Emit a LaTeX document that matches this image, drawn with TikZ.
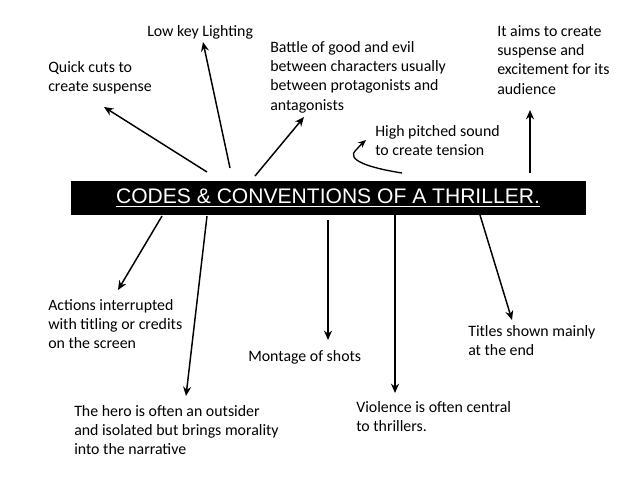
\documentclass[tikz,border=0pt]{standalone}
\usepackage{fontspec}
\usetikzlibrary{arrows.meta}
\setmainfont{Carlito}
\newfontfamily\arialf{Liberation Sans}
\begin{document}
\begin{tikzpicture}[x=0.75pt,y=-0.75pt,
  lbl/.style={align=left,anchor=north west,inner sep=0pt,font=\fontsize{11.9}{14.5}\selectfont},
  arr/.style={-{Stealth[length=7pt,width=6pt]},line width=1.1pt}]
\useasboundingbox (0,0) rectangle (638,479);
\fill[white] (0,0) rectangle (638,479);
\node[fill=black,minimum width=386.25pt,minimum height=26pt,inner sep=0pt,text=white,font=\arialf\fontsize{15.8}{17}\selectfont] (bar) at (328,198) {\underline{CODES \& CONVENTIONS OF A THRILLER.}};
\node[lbl] (t1) at (48,61) {Quick cuts to\\create suspense};
\node[lbl] (t2) at (147,25) {Low key Lighting};
\node[lbl] (t3) at (270,41) {Battle of good and evil\\between characters usually\\between protagonists and\\antagonists};
\node[lbl] (t4) at (375,125) {High pitched sound\\to create tension};
\node[lbl] (t5) at (497,25) {It aims to create\\suspense and\\excitement for its\\audience};
\node[lbl] (b1) at (48,299) {Actions interrupted\\with titling or credits\\on the screen};
\node[lbl] (b2) at (74,405) {The hero is often an outsider\\and isolated but brings morality\\into the narrative};
\node[lbl] (b3) at (248,350) {Montage of shots};
\node[lbl] (b4) at (356,401) {Violence is often central\\to thrillers.};
\node[lbl] (b5) at (468,325) {Titles shown mainly\\at the end};
\coordinate (a1s) at (207,172); \coordinate (a1e) at (104,107);
\coordinate (a2s) at (230,168); \coordinate (a2e) at (203,42);
\coordinate (a3s) at (255,176); \coordinate (a3e) at (304,117);
\coordinate (a5s) at (530,173); \coordinate (a5e) at (530,110);
\coordinate (c1s) at (402,173); \coordinate (c1e) at (366,140);
\coordinate (d1s) at (162,216); \coordinate (d1e) at (118,290);
\coordinate (d2s) at (207,216); \coordinate (d2e) at (186,396);
\coordinate (d3s) at (328,220); \coordinate (d3e) at (328,340);
\coordinate (d4s) at (395,211); \coordinate (d4e) at (395,393);
\coordinate (d5s) at (480,215); \coordinate (d5e) at (512,320);
\foreach \p in {a1,a2,a3,a5,d1,d2,d3,d4,d5} \draw[arr] (\p s) -- (\p e);
\draw[-{Stealth[length=6pt,width=5pt]},line width=1pt] (c1s) .. controls (370,168) and (345,160) .. (356,150) .. controls (359,146) .. (c1e);
\end{tikzpicture}
\end{document}
